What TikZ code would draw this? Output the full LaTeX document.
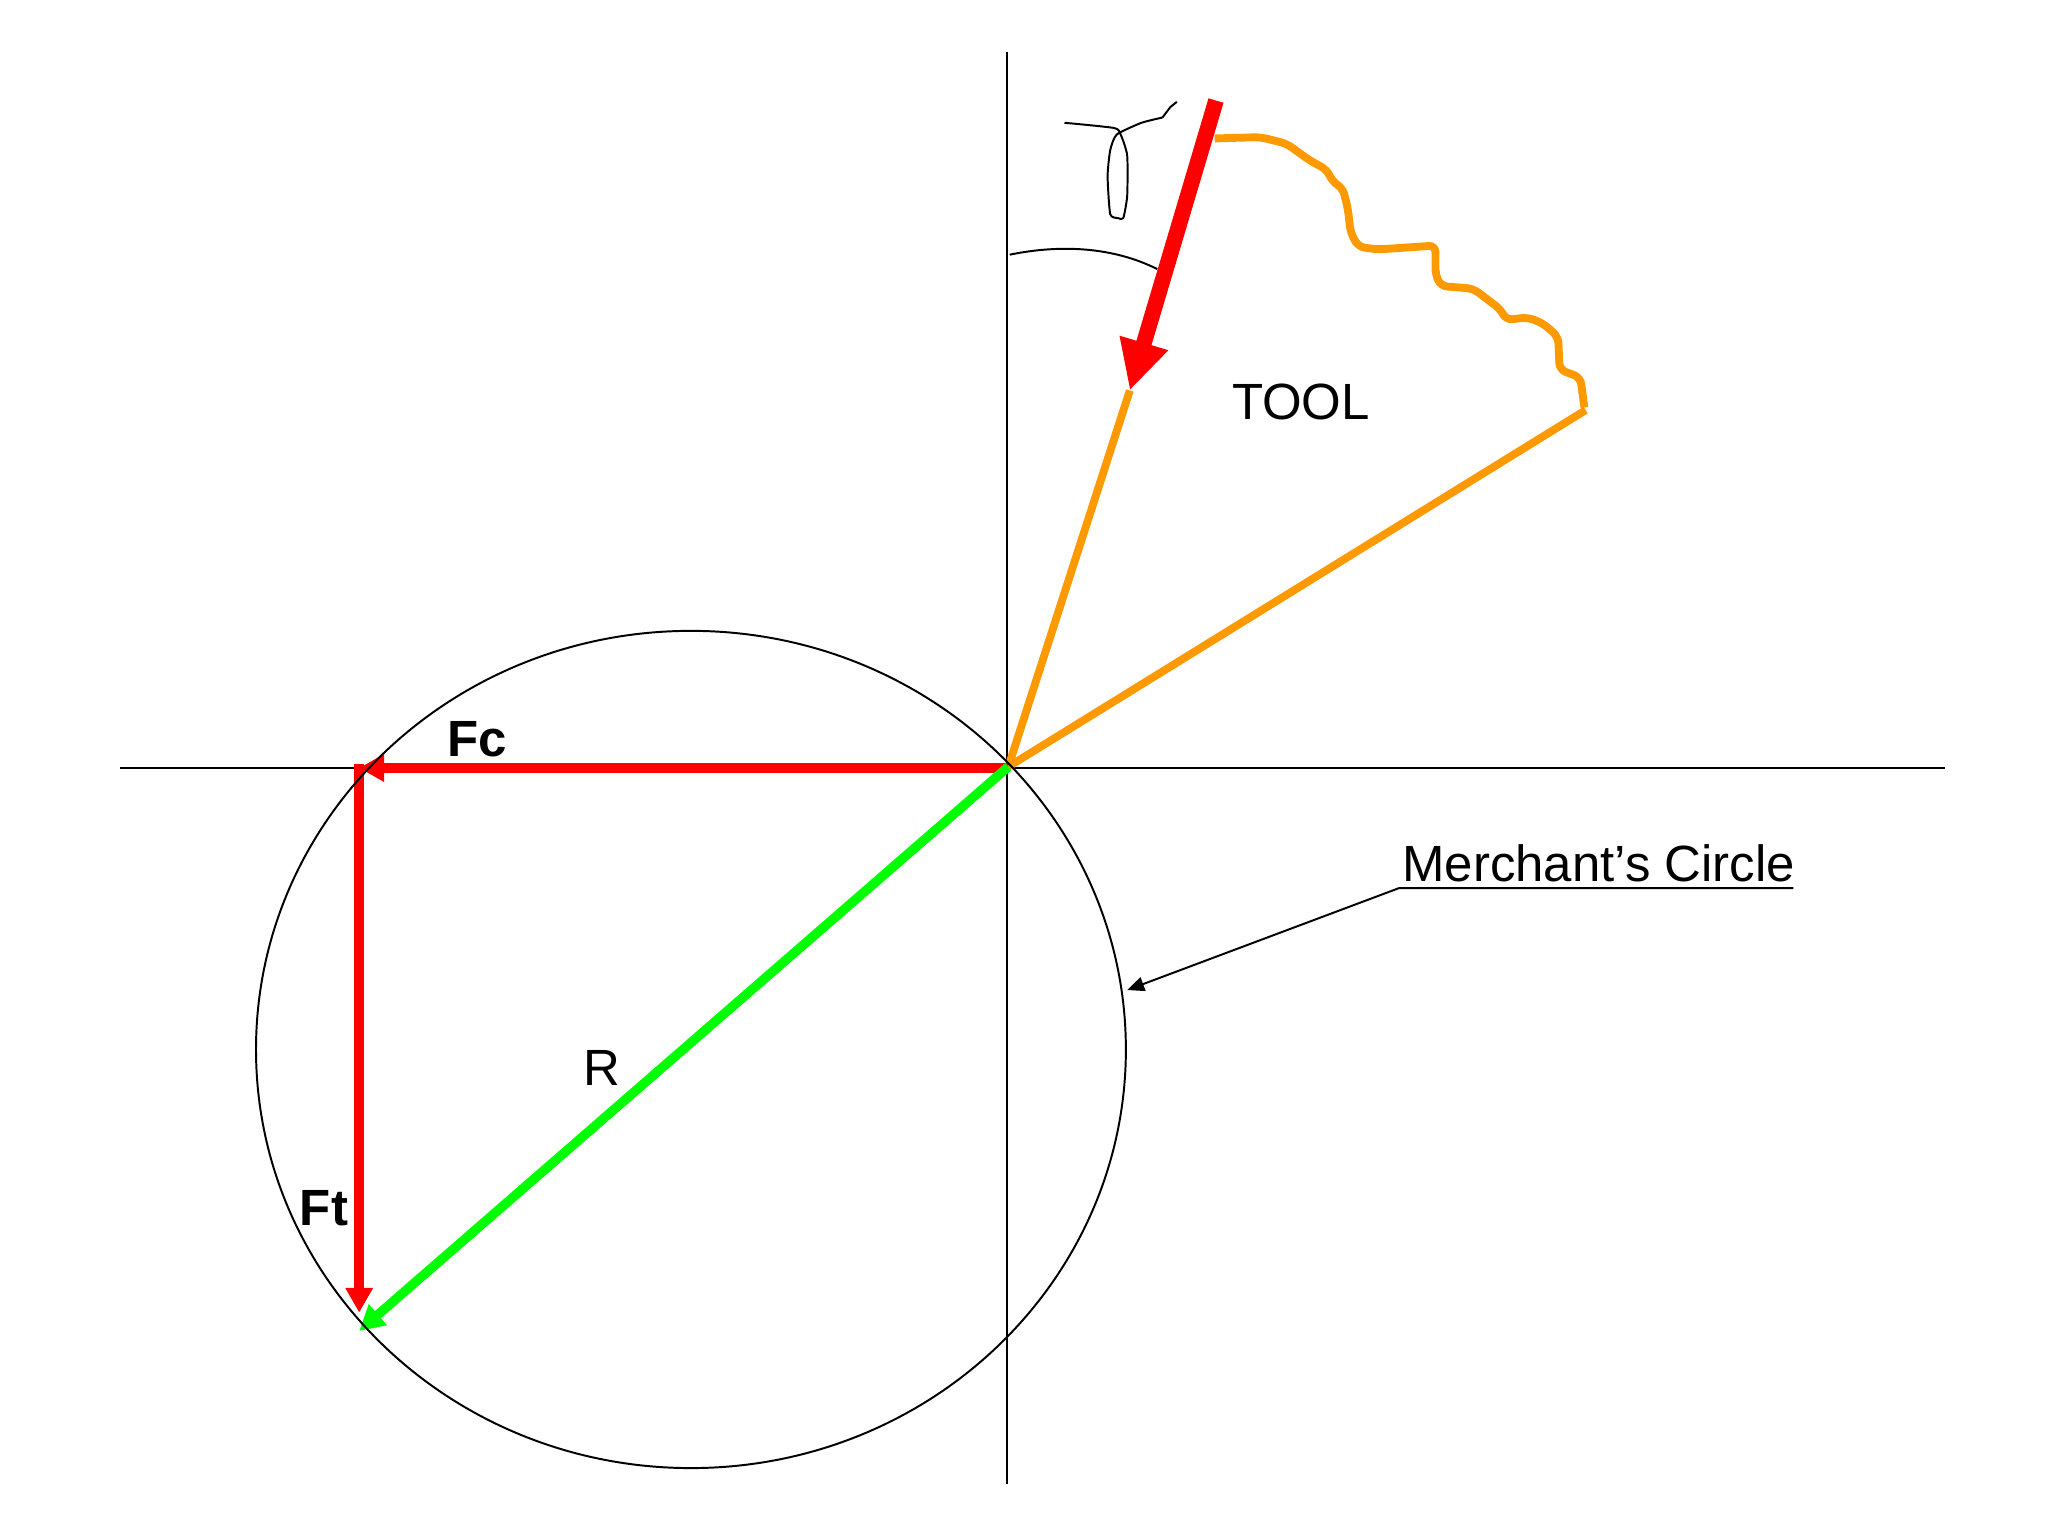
\documentclass[tikz,border=0pt]{standalone}
\usepackage{fontspec}
\setmainfont{Liberation Sans}
\usetikzlibrary{arrows.meta}
\definecolor{toolorange}{RGB}{255,153,0}
\tikzset{thinline/.style={draw=black,line width=0.75pt},
	toolline/.style={draw=toolorange,line width=3pt},
	label/.style={font=\fontsize{19.5}{22}\selectfont,inner sep=0pt},
	forcelabel/.style={label,font=\fontsize{19.5}{22}\selectfont\bfseries},
	forcearrow/.style={draw=red,line width=3.6pt,-{Triangle[length=9.5pt,width=10pt]}},
	bigarrow/.style={draw=red,line width=6pt,-{Triangle[length=19pt,width=18pt]}},
	x=0.5pt,y=-0.5pt}

\begin{document}
\begin{tikzpicture}
	\useasboundingbox (0,0) rectangle (1568,1176);
	\coordinate (O) at (772,587);
	\coordinate (Top) at (771,40);
	\coordinate (Bottom) at (771,1136);
	\coordinate (Left) at (92,588);
	\coordinate (Right) at (1489,588);
	\coordinate (Fcstart) at (772,588);
	\coordinate (Fcend) at (275,588);
	\coordinate (Ftstart) at (275,585);
	\coordinate (Ftend) at (275,1005);
	\coordinate (Rend) at (275,1019);
	\coordinate (Forcestart) at (931,77);
	\coordinate (Forceend) at (865,299);
	\coordinate (Toolend) at (1214,314);
	\coordinate (Wearstart) at (930,106);
	\coordinate (Wearend) at (1213,312);
	\coordinate (Leaderright) at (1373,680);
	\coordinate (Leaderbend) at (1071,680);
	\coordinate (Leaderend) at (863,758);

	\node[label] (Tool) at (996,308) {TOOL};
	\node[forcelabel] (Fc) at (365,566) {Fc};
	\node[forcelabel] (Ft) at (248,925) {Ft};
	\node[label] (R) at (461,818) {R};
	\node[label] (Name) at (1224,661) {Merchant’s Circle};

	\path (Top) edge[thinline] (Bottom);
	\path (Left) edge[thinline] (Right);

	\path (O) edge[toolline] (Forceend);
	\path (O) edge[toolline] (Toolend);
	\draw[toolline,rounded corners=2.5pt] (Wearstart) -- (965,105) -- (985,110) -- (1003,123) -- (1016,130)
		-- (1020,139) -- (1028,144) -- (1032,160) -- (1034,178) -- (1040,189) -- (1055,191) -- (1099,188)
		-- (1099,210) -- (1103,219) -- (1128,221) -- (1149,237) -- (1153,245) -- (1170,243) -- (1182,248)
		-- (1193,258) -- (1194,283) -- (1210,289) -- (Wearend);

	\path (Forcestart) edge[bigarrow] (Forceend);
	\path (Fcstart) edge[forcearrow] (Fcend);
	\path (Ftstart) edge[forcearrow] (Ftend);
	\path (O) edge[forcearrow,draw=green] (Rend);

	% circle goes over the arrow heads
	\draw[thinline] (529,803.5) ellipse (333 and 320.5);
	\draw[thinline] (773,195) .. controls (812,187) and (852,189) .. (886,206);
	\draw[thinline,line join=round] plot[smooth,tension=0.35] coordinates {(815,94) (853,98) (858,103) (863,119) (863,150) (860,167) (856,167) (850,164) (848,135) (850,115) (855,103) (874,94) (890,90)};
	\draw[thinline] (890,90) -- (896,82) -- (901,78);

	\draw[thinline,-{Triangle[length=6.5pt,width=5.5pt]}] (Leaderright) -- (Leaderbend) -- (Leaderend);
\end{tikzpicture}
\end{document}
